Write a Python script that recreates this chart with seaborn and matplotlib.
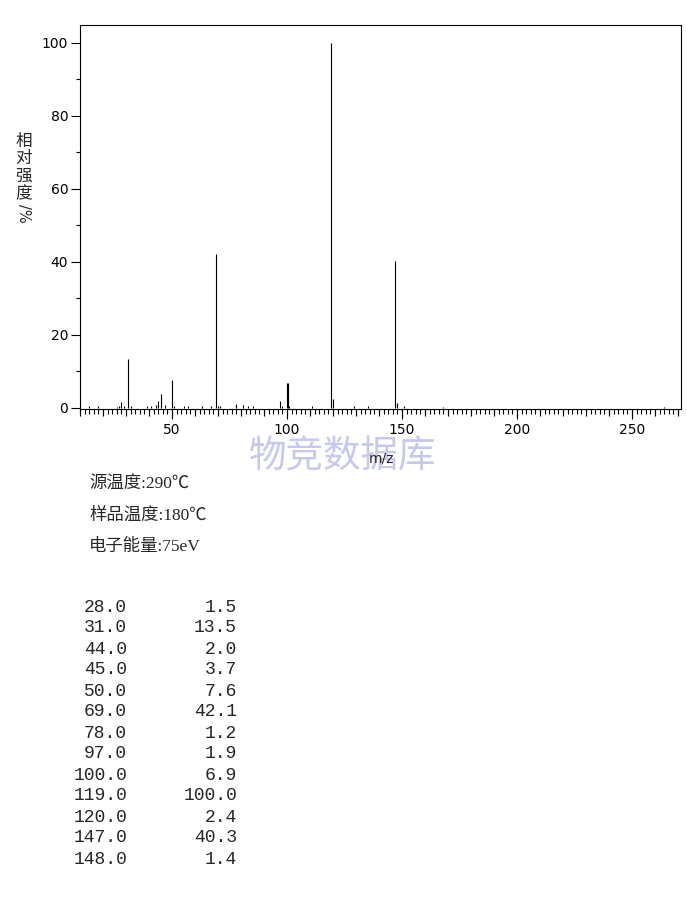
import matplotlib
matplotlib.use("Agg")
import matplotlib.pyplot as plt
from matplotlib.ticker import MultipleLocator
import seaborn as sns
import numpy as np

W, H = 687, 918

# peaks listed in the table under the spectrum
table_mz = [28.0, 31.0, 44.0, 45.0, 50.0, 69.0, 78.0, 97.0, 100.0, 119.0, 120.0, 147.0, 148.0]
table_int = [1.5, 13.5, 2.0, 3.7, 7.6, 42.1, 1.2, 1.9, 6.9, 100.0, 2.4, 40.3, 1.4]

# small peaks only visible in the spectrum
minor_mz = [14, 18, 26, 27, 29, 32, 39, 41, 43, 47, 51, 55, 57, 63, 67, 70, 71,
            81, 83, 85, 98, 101, 111, 129, 135, 151, 168, 264]
minor_int = [0.4, 0.5, 0.3, 0.6, 0.6, 0.5, 0.5, 0.6, 0.7, 0.9, 0.6, 0.4, 0.4, 0.5,
             0.5, 0.6, 0.6, 0.7, 0.5, 0.4, 0.6, 0.6, 0.4, 0.5, 0.4, 0.4, 0.3, 0.3]

conditions = ["源温度:290℃", "样品温度:180℃", "电子能量:75eV"]
ylabel_chars = ["相", "对", "强", "度"]

sns.set_style("ticks")
plt.rcParams['font.family'] = ['DejaVu Sans', 'Noto Sans CJK SC']

fig = plt.figure(figsize=(W / 100, H / 100), dpi=100)
ax = fig.add_axes([80 / W, 1 - 409 / H, 601 / W, 384 / H])

mz = table_mz + minor_mz
inten = table_int + minor_int
ax.vlines(mz, 0, inten, color='black', linewidth=0.8)
ax.vlines([100.5], 0, [6.9], color='black', linewidth=0.8)

ax.set_xlim(10, 271.3)
ax.set_ylim(-0.3, 104.9)
for s in ax.spines.values():
    s.set_visible(True)
    s.set_linewidth(0.8)
    s.set_color('black')

ax.xaxis.set_major_locator(MultipleLocator(50))
ax.xaxis.set_minor_locator(MultipleLocator(2))
ax.yaxis.set_major_locator(MultipleLocator(20))
ax.yaxis.set_minor_locator(MultipleLocator(10))
ax.tick_params(axis='x', which='major', length=7.2, width=0.8, pad=3, labelsize=10, colors='black')
ax.tick_params(axis='x', which='minor', length=3.6, width=0.8, colors='black')
ax.tick_params(axis='y', which='major', length=6.5, width=0.8, pad=2, labelsize=10, colors='black')
ax.tick_params(axis='y', which='minor', length=3, width=0.8, colors='black')

# medium ticks every 10 units
sec = ax.secondary_xaxis('bottom')
sec.set_xticks(np.arange(10, 272, 10))
sec.tick_params(length=5.2, width=0.8, labelbottom=False, colors='black')
sec.spines['bottom'].set_visible(False)

# watermark
fig.text(343 / W, 1 - 457 / H, "物竞数据库", fontsize=27, color='#c8c8ec',
         family=['Noto Sans CJK SC'], ha='center', va='center')
fig.text(381 / W, 1 - 459 / H, "m/z", fontsize=10, ha='center', va='center')

# vertical y label
for i, ch in enumerate(ylabel_chars):
    fig.text(24 / W, 1 - (141 + 17.5 * i) / H, ch, fontsize=12,
             family=['Noto Sans CJK SC'], ha='center', va='center')
fig.text(24 / W, 1 - 213 / H, "/%", fontsize=10.5, rotation=-90,
         ha='center', va='center')

for i, t in enumerate(conditions):
    fig.text(89 / W, 1 - (485 + 31 * i) / H, t, fontsize=12.5,
             family=['Liberation Serif', 'Noto Sans CJK SC'], ha='left', va='center')

for i, (m, v) in enumerate(zip(table_mz, table_int)):
    y = 1 - (607 + 21 * i) / H
    fig.text(127 / W, y, f"{m:.1f}", fontsize=13, family=['Liberation Mono'],
             ha='right', va='center')
    fig.text(237 / W, y, f"{v:.1f}", fontsize=13, family=['Liberation Mono'],
             ha='right', va='center')

fig.savefig('out.png', dpi=100)
